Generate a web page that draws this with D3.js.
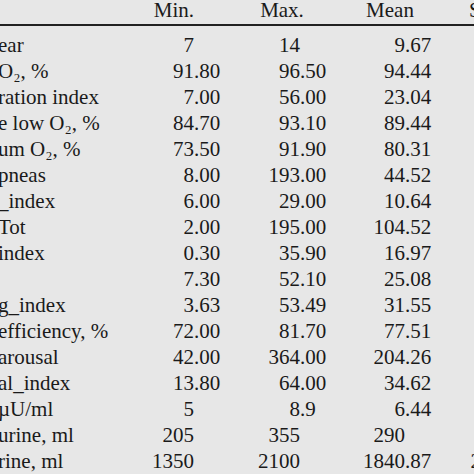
<!DOCTYPE html>
<html>
<head>
<meta charset="utf-8">
<script src="https://cdn.jsdelivr.net/npm/d3@7"></script>
<style>
  body { margin: 0; background: #e7e7e7; }
  svg { display: block; }
</style>
</head>
<body>
<svg id="table" width="474" height="474"></svg>
<script>
// visible fragments of the row labels (the left side is cut off in the picture)
const labels = ["ear", "O\u2082, %", "ration index", "e low O\u2082, %", "um O\u2082, %", "pneas",
    "_index", "Tot", "index", "", "g_index", "efficiency, %", "arousal", "al_index",
    "\u00b5U/ml", "urine, ml", "rine, ml"];
const headers = ["Min.", "Max.", "Mean", "S"];
const minVals = ["7", "91.80", "7.00", "84.70", "73.50", "8.00", "6.00", "2.00", "0.30", "7.30",
    "3.63", "72.00", "42.00", "13.80", "5", "205", "1350"];
const maxVals = ["14", "96.50", "56.00", "93.10", "91.90", "193.00", "29.00", "195.00", "35.90", "52.10",
    "53.49", "81.70", "364.00", "64.00", "8.9", "355", "2100"];
const meanVals = ["9.67", "94.44", "23.04", "89.44", "80.31", "44.52", "10.64", "104.52", "16.97", "25.08",
    "31.55", "77.51", "204.26", "34.62", "6.44", "290", "1840.87"];
const sdVals = ["", "", "", "", "", "", "", "", "", "", "", "", "", "", "", "", "267.15"];

const svg = d3.select("#table");
const font = "'Liberation Serif', 'DejaVu Serif', serif";
const fontSize = 21;

const y = d3.scaleBand()
    .domain(d3.range(labels.length))
    .range([32, 32 + 26 * labels.length]);

// decimal point position for each numeric column
const dotX = [194, 300, 405, 502];
const headerX = [174, 282, 390, 469];
const columns = [minVals, maxVals, meanVals, sdVals];

svg.append("g")
    .selectAll("text")
    .data(headers)
    .enter()
    .append("text")
    .attr("x", (d, i) => headerX[i])
    .attr("y", 17)
    .attr("text-anchor", (d, i) => i === 3 ? "start" : "middle")
    .style("font-family", font)
    .style("font-size", fontSize + "px")
    .style("fill", "#1a1a1a")
    .text(d => d);

svg.append("line")
    .attr("x1", 0).attr("x2", 474)
    .attr("y1", 25).attr("y2", 25)
    .style("stroke", "#222")
    .style("stroke-width", 2);

const rowY = i => y(i) + y.bandwidth() / 2 + 7;

svg.append("g")
    .selectAll("text")
    .data(labels)
    .enter()
    .append("text")
    .attr("x", -2)
    .attr("y", (d, i) => rowY(i))
    .style("font-family", font)
    .style("font-size", fontSize + "px")
    .style("fill", "#1a1a1a")
    .text(d => d);

columns.forEach((vals, c) => {
    const g = svg.append("g");
    const cells = vals.map((v, i) => ({ v, i })).filter(d => d.v !== "");
    // integer part right-aligned at the decimal point
    g.selectAll("text.int")
        .data(cells)
        .enter()
        .append("text")
        .attr("class", "int")
        .attr("x", dotX[c])
        .attr("y", d => rowY(d.i))
        .attr("text-anchor", "end")
        .style("font-family", font)
        .style("font-size", fontSize + "px")
        .style("fill", "#1a1a1a")
        .text(d => d.v.split(".")[0]);
    g.selectAll("text.frac")
        .data(cells.filter(d => d.v.includes(".")))
        .enter()
        .append("text")
        .attr("class", "frac")
        .attr("x", dotX[c])
        .attr("y", d => rowY(d.i))
        .style("font-family", font)
        .style("font-size", fontSize + "px")
        .style("fill", "#1a1a1a")
        .text(d => "." + d.v.split(".")[1]);
});
</script>
</body>
</html>
